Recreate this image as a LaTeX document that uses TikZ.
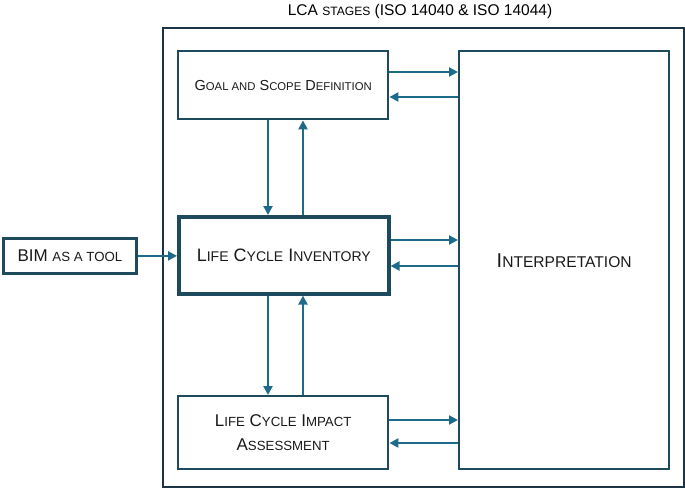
\documentclass[tikz,border=0pt]{standalone}
\usepackage{fontspec}
\setmainfont{Liberation Sans}
\usetikzlibrary{arrows.meta}
\definecolor{arr}{HTML}{1D6A8A}
\definecolor{bd}{HTML}{1E4A5E}
\definecolor{outer}{HTML}{1C3446}
\newcommand{\Sc}[2]{#1{\fontsize{0.78em}{1em}\selectfont #2}}
\begin{document}
\begin{tikzpicture}[x=1pt,y=-1pt,
  box/.style={draw=bd,line width=2.4pt,align=center,inner sep=0pt,text=black!90},
  ar/.style={draw=arr,line width=2.2pt,-{Triangle[length=9pt,width=9pt]}}]
\useasboundingbox (0,0) rectangle (685,490);
\node[draw=outer,line width=2.4pt,minimum width=521pt,minimum height=459pt,anchor=north west] (outerbox) at (162,27) {};
\node[anchor=south,font=\fontsize{15.5}{18}\selectfont] (title) at (420,22) {LCA \Sc{}{STAGES} (ISO 14040 \& ISO 14044)};
\node[box,minimum width=210pt,minimum height=68pt,anchor=north west,font=\fontsize{14.5}{17}\selectfont] (goal) at (177,50) {\Sc{G}{OAL AND} \Sc{S}{COPE} \Sc{D}{EFINITION}};
\node[box,line width=3.6pt,minimum width=210pt,minimum height=77pt,anchor=north west,font=\fontsize{18}{20}\selectfont] (lci) at (177,215) {\Sc{L}{IFE} \Sc{C}{YCLE} \Sc{I}{NVENTORY}};
\node[box,minimum width=210pt,minimum height=73pt,anchor=north west,font=\fontsize{17}{24}\selectfont] (lcia) at (177,395) {\Sc{L}{IFE} \Sc{C}{YCLE} \Sc{I}{MPACT}\\ \Sc{A}{SSESSMENT}};
\node[box,minimum width=210pt,minimum height=418pt,anchor=north west,font=\fontsize{20}{24}\selectfont] (interp) at (458,50) {\Sc{I}{NTERPRETATION}};
\node[box,line width=2.8pt,minimum width=133pt,minimum height=35pt,anchor=north west,font=\fontsize{17}{19}\selectfont] (bim) at (2,237) {BIM \Sc{}{AS A TOOL}};
% horizontal arrows
\draw[ar] (goal.east|-0,72) -- (interp.west|-0,72);
\draw[ar] (interp.west|-0,97) -- (goal.east|-0,97);
\draw[ar] (lci.east|-0,240) -- (interp.west|-0,240);
\draw[ar] (interp.west|-0,266) -- (lci.east|-0,266);
\draw[ar] (lcia.east|-0,420) -- (interp.west|-0,420);
\draw[ar] (interp.west|-0,443) -- (lcia.east|-0,443);
\draw[ar] (bim.east) -- (lci.west|-bim.east);
% vertical arrows
\draw[ar] (goal.south-|268,0) -- (lci.north-|268,0);
\draw[ar] (lci.north-|303,0) -- (goal.south-|303,0);
\draw[ar] (lci.south-|268,0) -- (lcia.north-|268,0);
\draw[ar] (lcia.north-|303,0) -- (lci.south-|303,0);
\end{tikzpicture}
\end{document}
